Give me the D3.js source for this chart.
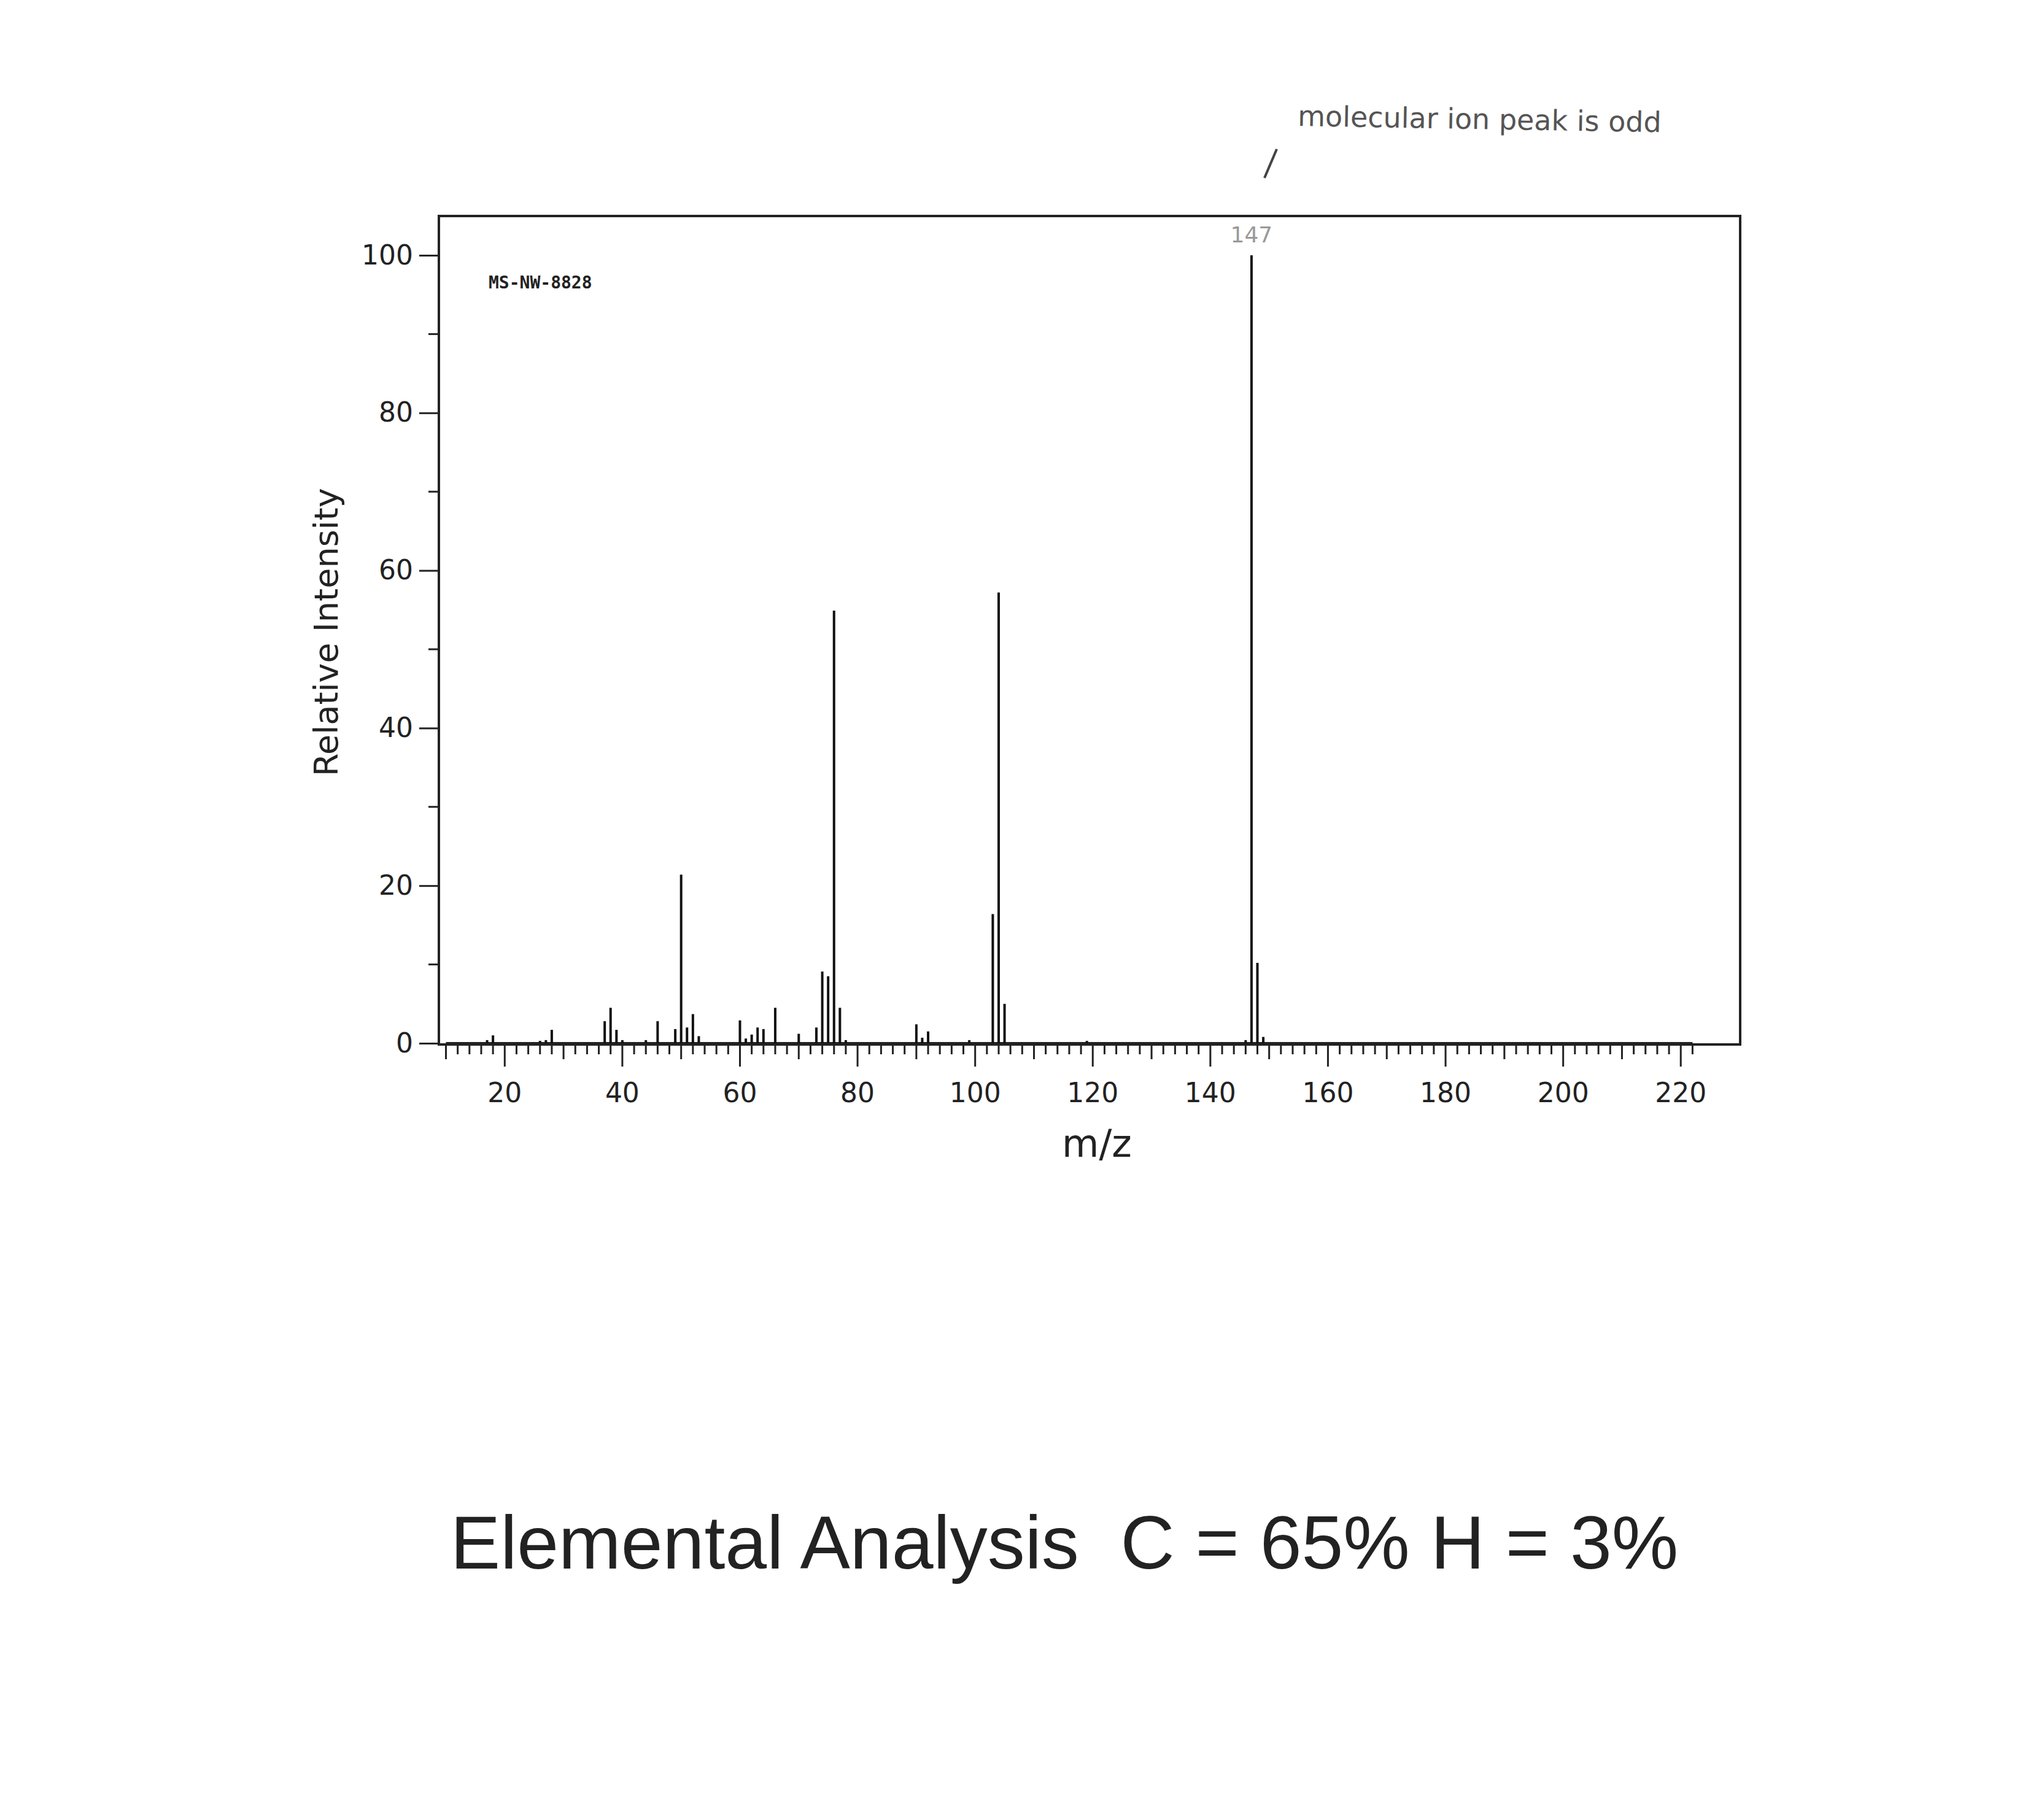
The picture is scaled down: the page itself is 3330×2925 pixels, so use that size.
<!DOCTYPE html>
<html>
<head>
<meta charset="utf-8">
<script src="https://cdn.jsdelivr.net/npm/d3@7"></script>
<style>
  body { margin: 0; background: #fff; }
  text { fill: #222; }
</style>
</head>
<body>
<svg id="chart" width="3330" height="2925"></svg>
<script>
// peaks (m/z, relative intensity)
const mz =        [17, 18, 26, 27, 28, 37, 38, 39, 40, 44, 46, 49, 50, 51, 52, 53, 60, 61, 62, 63, 64, 66, 70, 73, 74, 75, 76, 77, 78, 90, 91, 92, 99, 103, 104, 105, 119, 146, 147, 148, 149];
const intensity = [0.4, 1.0, 0.3, 0.4, 1.7, 2.8, 4.5, 1.7, 0.4, 0.4, 2.8, 1.8, 21.4, 2.0, 3.7, 0.9, 2.9, 0.6, 1.1, 2.0, 1.8, 4.5, 1.2, 2.0, 9.1, 8.5, 54.9, 4.5, 0.4, 2.4, 0.7, 1.5, 0.4, 16.4, 57.2, 5.0, 0.3, 0.4, 100, 10.2, 0.8];
const yTicks = [0, 20, 40, 60, 80, 100];
const xTicks = [20, 40, 60, 80, 100, 120, 140, 160, 180, 200, 220];
const sampleId = "MS-NW-8828";
const title = "Elemental Analysis  C = 65% H = 3%";

const svg = d3.select("#chart");
const frameL = 715, frameR = 2835, frameT = 352, frameB = 1702;

const x = d3.scaleLinear().domain([8.8, 230.1]).range([frameL, frameR]);
const y = d3.scaleLinear().domain([0, 100]).range([1700, 416]);

// frame
svg.append("rect")
    .attr("x", frameL).attr("y", frameT)
    .attr("width", frameR - frameL).attr("height", frameB - frameT)
    .attr("fill", "none").attr("stroke", "#222").attr("stroke-width", 4);

// y axis ticks
const yAxis = d3.axisLeft(y).tickValues(yTicks).tickSize(32).tickPadding(10).tickFormat(d3.format("d"));
const gy = svg.append("g").attr("transform", `translate(${frameL},0)`).call(yAxis);
gy.select(".domain").remove();
gy.selectAll("line").attr("stroke", "#222").attr("stroke-width", 3);
gy.selectAll("text").attr("font-family", "DejaVu Sans").attr("font-size", 44).attr("fill", "#222");
svg.append("g").selectAll("line").data(d3.range(10, 100, 20)).join("line")
    .attr("x1", frameL - 17).attr("x2", frameL)
    .attr("y1", d => y(d)).attr("y2", d => y(d))
    .attr("stroke", "#222").attr("stroke-width", 3);

// x axis: minor every 2, medium every 10, long every 20
const xMinor = d3.range(10, 224, 2);
svg.append("g").selectAll("line").data(xMinor).join("line")
    .attr("x1", d => x(d)).attr("x2", d => x(d))
    .attr("y1", y(0))
    .attr("y2", d => y(0) + (d % 20 === 0 ? 38 : d % 10 === 0 ? 26 : 18))
    .attr("stroke", "#222").attr("stroke-width", 3);
svg.append("line")
    .attr("x1", x(10)).attr("x2", x(222))
    .attr("y1", y(0)).attr("y2", y(0))
    .attr("stroke", "#222").attr("stroke-width", 4);
svg.append("g").selectAll("text").data(xTicks).join("text")
    .attr("x", d => x(d)).attr("y", y(0) + 96)
    .attr("text-anchor", "middle")
    .attr("font-family", "DejaVu Sans").attr("font-size", 44)
    .text(d => d);

// peaks
svg.append("g").selectAll("line").data(mz).join("line")
    .attr("x1", d => x(d)).attr("x2", d => x(d))
    .attr("y1", y(0))
    .attr("y2", (d, i) => y(intensity[i]))
    .attr("stroke", "#111").attr("stroke-width", 4);

// labels
svg.append("text").attr("x", 796).attr("y", 470)
    .attr("font-family", "DejaVu Sans Mono").attr("font-size", 28).attr("font-weight", "bold")
    .text(sampleId);
svg.append("text")
    .attr("transform", `translate(550,1030) rotate(-90)`)
    .attr("text-anchor", "middle")
    .attr("font-family", "DejaVu Sans").attr("font-size", 54)
    .text("Relative Intensity");
svg.append("text").attr("x", 1787).attr("y", 1885)
    .attr("text-anchor", "middle")
    .attr("font-family", "DejaVu Sans").attr("font-size", 62)
    .text("m/z");
svg.append("text").attr("x", 1734).attr("y", 2556)
    .attr("text-anchor", "middle")
    .attr("font-family", "Liberation Sans").attr("font-size", 122)
    .style("white-space", "pre")
    .text(title);

// handwritten annotation
svg.append("text").attr("x", 2114).attr("y", 205)
    .attr("font-family", "DejaVu Sans").attr("font-size", 46)
    .style("fill", "#555")
    .attr("transform", "rotate(1,2114,205)")
    .text("molecular ion peak is odd");
svg.append("line").attr("x1", 2060).attr("y1", 290).attr("x2", 2080).attr("y2", 243)
    .attr("stroke", "#444").attr("stroke-width", 4);
svg.append("text").attr("x", x(147)).attr("y", 395)
    .attr("text-anchor", "middle")
    .attr("font-family", "DejaVu Sans").attr("font-size", 36)
    .style("fill", "#999")
    .text("147");
</script>
</body>
</html>
